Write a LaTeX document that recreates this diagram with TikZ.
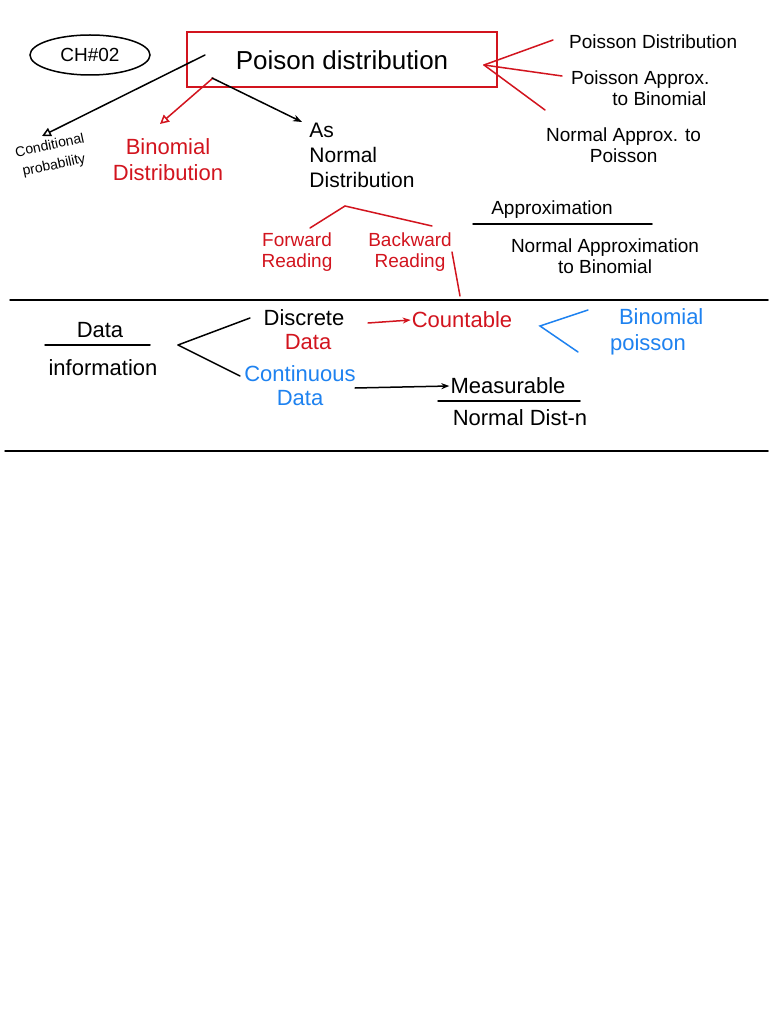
\documentclass[tikz,border=0pt]{standalone}
\usepackage{fontspec}
\setmainfont{Liberation Sans}
\usetikzlibrary{arrows.meta,shapes.geometric}
\definecolor{hred}{RGB}{210,20,30}
\definecolor{hblue}{RGB}{30,130,240}
\tikzset{
 hw/.style={font=\fontsize{19}{21}\selectfont, align=center, inner sep=1pt},
 redt/.style={hw, text=hred},
 bluet/.style={hw, text=hblue},
 ln/.style={line width=1.5pt, line cap=round},
 rln/.style={ln, draw=hred},
 bln/.style={ln, draw=hblue},
}
\begin{document}
\begin{tikzpicture}[x=1pt,y=-1pt]
\fill[white] (0,0) rectangle (768,1024);
\useasboundingbox (0,0) rectangle (768,1024);
% top
\node[hw, draw, ellipse, line width=1.5pt, minimum width=120, minimum height=40] (ch) at (90,55) {CH\#02};
\node[hw, draw=hred, line width=2pt, minimum width=310, minimum height=55, font=\fontsize{26}{28}\selectfont] (box) at (342,60) {Poison distribution};
\node[hw, anchor=west] (p1) at (568,42) {Poisson Distribution};
\node[hw, anchor=west] (p2) at (570,88) {Poisson Approx.\\\hspace*{2em}to Binomial};
\node[hw, anchor=west] (p3) at (545,145) {Normal Approx. to\\Poisson};
\coordinate (br) at (484,65);
\draw[rln] (br) -- (553,40);
\draw[rln] (br) -- (562,76);
\draw[rln] (br) -- (545,110);
\node[hw, rotate=12, font=\fontsize{14}{20}\selectfont] (cp) at (52,156) {Conditional\\probability};
\draw[ln, -{Triangle[open,length=9pt,width=9pt]}] (205,55) -- (42,136);
\node[redt, font=\fontsize{22}{26}\selectfont] (bin) at (168,160) {Binomial\\Distribution};
\draw[rln, -{Triangle[open,length=9pt,width=9pt]}] (213,78) -- (160,124);
\node[hw, align=left, font=\fontsize{21}{25}\selectfont] (nd) at (362,155) {As\\Normal\\Distribution};
\draw[ln, -{Stealth[length=9pt]}] (212,78) -- (302,122);
\coordinate (fork) at (345,206);
\draw[rln] (fork) -- (310,228);
\draw[rln] (fork) -- (432,226);
\draw[rln] (452,252) -- (460,296);
\node[redt] (fw) at (297,252) {Forward\\Reading};
\node[redt] (bw) at (410,252) {Backward\\Reading};
\node[hw] (ap) at (552,210) {Approximation};
\draw[ln] (473,224) -- (652,224);
\node[hw] (na) at (605,256) {Normal Approximation\\to Binomial};
\draw[ln] (10,300) -- (768,300);
% lower
\node[hw, font=\fontsize{22}{24}\selectfont] (data) at (100,330) {Data};
\draw[ln] (45,345) -- (150,345);
\node[hw, font=\fontsize{22}{24}\selectfont] (info) at (103,368) {information};
\coordinate (df) at (178,345);
\draw[ln] (df) -- (250,318);
\draw[ln] (df) -- (240,376);
\node[hw, font=\fontsize{22}{24}\selectfont] (disc) at (304,318) {Discrete};
\node[redt, font=\fontsize{22}{24}\selectfont] (dd) at (308,342) {Data};
\node[redt, font=\fontsize{22}{24}\selectfont] (cnt) at (462,320) {Countable};
\draw[rln, -{Stealth[length=8pt]}] (368,323) -- (cnt.west);
\draw[bln] (588,310) -- (540,326) -- (578,352);
\node[bluet, font=\fontsize{22}{26}\selectfont] (bp) at (648,332) {\hspace*{1.2em}Binomial\\poisson};
\node[bluet, font=\fontsize{22}{24}\selectfont] (cd) at (300,386) {Continuous\\Data};
\node[hw, font=\fontsize{22}{24}\selectfont] (me) at (508,386) {Measurable};
\draw[ln, -{Stealth[length=8pt]}] (355,388) -- (me.west);
\draw[ln] (438,401) -- (580,401);
\node[hw, font=\fontsize{22}{24}\selectfont] (nd2) at (520,418) {Normal Dist-n};
\draw[ln] (5,451) -- (768,451);
\end{tikzpicture}
\end{document}
